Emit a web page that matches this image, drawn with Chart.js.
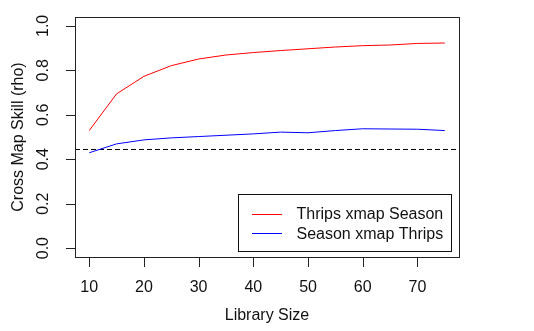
<!DOCTYPE html>
<html>
<head>
<meta charset="utf-8">
<script src="https://cdn.jsdelivr.net/npm/chart.js@4/dist/chart.umd.min.js"></script>
<style>
  html, body { margin: 0; padding: 0; background: #fff; }
  canvas { display: block; }
</style>
</head>
<body>
<canvas id="ccm" width="534" height="331"></canvas>
<script>
// Library sizes and cross-map skill for both directions
const librarySizes = [10, 15, 20, 25, 30, 35, 40, 45, 50, 55, 60, 65, 70, 75];
const thripsXmapSeason = [0.529, 0.694, 0.773, 0.821, 0.851, 0.869, 0.880, 0.889, 0.897, 0.905, 0.911, 0.914, 0.921, 0.923];
const seasonXmapThrips = [0.429, 0.469, 0.487, 0.496, 0.502, 0.508, 0.514, 0.522, 0.519, 0.529, 0.537, 0.536, 0.535, 0.529];
const significanceLevel = 0.447;

const xTicks = [10, 20, 30, 40, 50, 60, 70];
const yTicks = [0.0, 0.2, 0.4, 0.6, 0.8, 1.0];
const seriesLabels = ['Thrips xmap Season', 'Season xmap Thrips'];
const seriesColors = ['#ff0000', '#0000ff'];

const FONT = '16px "Liberation Sans", Arial, sans-serif';

const toPoints = (xs, ys) => xs.map((x, i) => ({ x, y: ys[i] }));

// Base-graphics style frame, ticks, labels, reference line and legend
const basePlot = {
  id: 'basePlot',
  beforeDatasetsDraw(chart) {
    const { ctx, chartArea: a, scales: { y } } = chart;
    const yy = Math.round(y.getPixelForValue(significanceLevel)) + 0.5;
    ctx.save();
    ctx.strokeStyle = '#000';
    ctx.lineWidth = 1;
    ctx.setLineDash([5, 3]);
    ctx.beginPath();
    ctx.moveTo(a.left, yy);
    ctx.lineTo(a.right, yy);
    ctx.stroke();
    ctx.restore();
  },
  afterDraw(chart) {
    const { ctx, chartArea: a, scales: { x, y } } = chart;
    const tick = 9.5;
    ctx.save();
    ctx.strokeStyle = '#222';
    ctx.lineWidth = 1;
    ctx.strokeRect(Math.round(a.left) + 0.5, Math.round(a.top) + 0.5,
      Math.round(a.right - a.left), Math.round(a.bottom - a.top));

    ctx.fillStyle = '#111';
    ctx.font = FONT;

    // x axis
    const bx = Math.round(a.bottom) + 0.5;
    ctx.beginPath();
    xTicks.forEach(v => {
      const px = Math.round(x.getPixelForValue(v)) + 0.5;
      ctx.moveTo(px, bx);
      ctx.lineTo(px, bx + tick);
    });
    ctx.stroke();
    ctx.textAlign = 'center';
    ctx.textBaseline = 'middle';
    xTicks.forEach(v => ctx.fillText(String(v), x.getPixelForValue(v), a.bottom + 31));
    ctx.fillText('Library Size', (a.left + a.right) / 2, a.bottom + 59);

    // y axis
    const lx = Math.round(a.left) + 0.5;
    ctx.beginPath();
    yTicks.forEach(v => {
      const py = Math.round(y.getPixelForValue(v)) + 0.5;
      ctx.moveTo(lx, py);
      ctx.lineTo(lx - tick, py);
    });
    ctx.stroke();
    yTicks.forEach(v => {
      ctx.save();
      ctx.translate(a.left - 31, y.getPixelForValue(v));
      ctx.rotate(-Math.PI / 2);
      ctx.fillText(v.toFixed(1), 0, 0);
      ctx.restore();
    });
    ctx.save();
    ctx.translate(a.left - 56, (a.top + a.bottom) / 2);
    ctx.rotate(-Math.PI / 2);
    ctx.fillText('Cross Map Skill (rho)', 0, 0);
    ctx.restore();

    // legend, bottom right
    const lgRight = a.right - 7.5, lgBottom = a.bottom - 5.5;
    const lgLeft = a.right - 220.5, lgTop = a.bottom - 62.5;
    ctx.fillStyle = '#fff';
    ctx.fillRect(lgLeft, lgTop, lgRight - lgLeft, lgBottom - lgTop);
    ctx.strokeStyle = '#111';
    ctx.strokeRect(lgLeft, lgTop, lgRight - lgLeft, lgBottom - lgTop);
    ctx.textAlign = 'left';
    seriesLabels.forEach((label, i) => {
      const ry = lgTop + 19.5 + i * 19.3;
      ctx.strokeStyle = seriesColors[i];
      ctx.beginPath();
      ctx.moveTo(lgLeft + 13.5, Math.round(ry) + 0.5);
      ctx.lineTo(lgLeft + 43.5, Math.round(ry) + 0.5);
      ctx.stroke();
      ctx.fillStyle = '#111';
      ctx.fillText(label, lgLeft + 58, ry + 1);
    });
    ctx.restore();
  }
};

new Chart(document.getElementById('ccm'), {
  type: 'line',
  data: {
    datasets: [
      {
        label: seriesLabels[0],
        data: toPoints(librarySizes, thripsXmapSeason),
        borderColor: seriesColors[0],
        borderWidth: 1,
        pointRadius: 0,
        tension: 0,
        fill: false
      },
      {
        label: seriesLabels[1],
        data: toPoints(librarySizes, seasonXmapThrips),
        borderColor: seriesColors[1],
        borderWidth: 1,
        pointRadius: 0,
        tension: 0,
        fill: false
      }
    ]
  },
  options: {
    responsive: false,
    animation: false,
    layout: { padding: { left: 75, top: 17, right: 75, bottom: 74 } },
    plugins: { legend: { display: false }, tooltip: { enabled: false } },
    scales: {
      x: { type: 'linear', min: 7.4, max: 77.6, display: false },
      y: { type: 'linear', min: -0.04, max: 1.04, display: false }
    }
  },
  plugins: [basePlot]
});
</script>
</body>
</html>
